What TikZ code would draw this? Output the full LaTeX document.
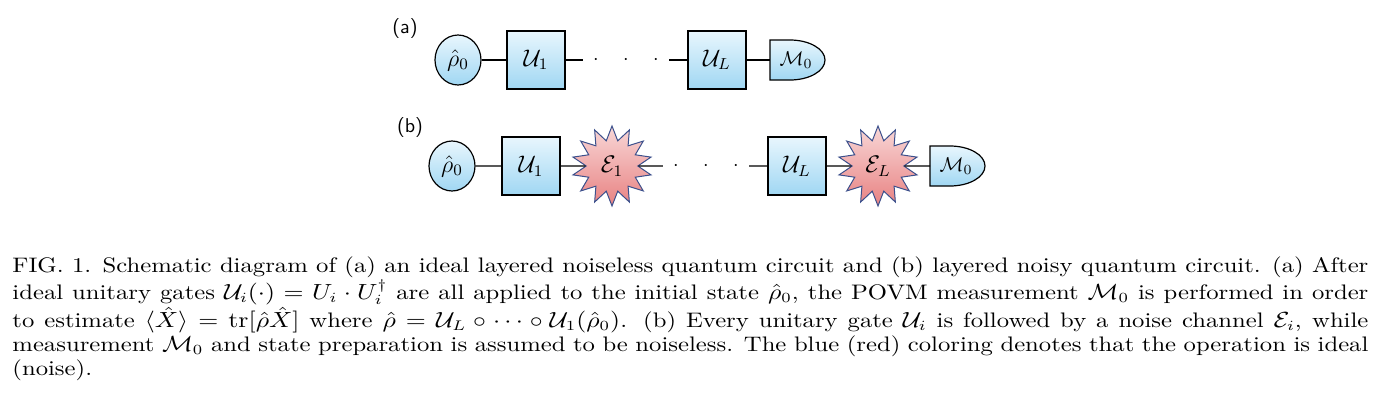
\documentclass[tikz,border=0pt]{standalone}
\usepackage{amsmath,amssymb}
\usetikzlibrary{shapes.geometric}
\definecolor{skyl}{RGB}{232,246,253}
\definecolor{skyd}{RGB}{160,215,243}
\definecolor{redl}{RGB}{248,215,215}
\definecolor{redd}{RGB}{232,130,130}
\definecolor{edgeb}{RGB}{60,80,140}
\begin{document}
\begin{tikzpicture}[x=0.5pt,y=-0.5pt,
  wire/.style={black,line width=0.6pt},
  ideal/.style={draw=black,line width=0.6pt,top color=skyl,bottom color=skyd},
  gate/.style={ideal,rectangle,minimum size=29pt,inner sep=0pt,font=\large},
  state/.style={ideal,ellipse,minimum width=23pt,minimum height=25pt,inner sep=0pt,font=\large},
  noise/.style={star,star points=14,star point ratio=1.55,minimum size=40pt,inner sep=0pt,
    draw=edgeb,line width=0.5pt,top color=redl,bottom color=redd,font=\large},
  dots/.style={inner sep=5pt},
  lab/.style={font=\sffamily}]
\useasboundingbox (0,0) rectangle (1376,412);
% (a) ideal circuit
\node[lab] (la) at (405,28) {(a)};
\node[state] (r0a) at (458,60) {$\hat\rho_0$};
\node[gate] (u1a) at (536,60) {$\mathcal{U}_1$};
\node[dots] (da) at (626,60) {$\cdot\quad\cdot\quad\cdot$};
\node[gate] (ula) at (717,60) {$\mathcal{U}_L$};
\draw[ideal] (770,40) -- (790,40) arc (-90:90:35 and 20) -- (770,80) -- cycle;
\node (ma) at (796,60) {$\mathcal{M}_0$};
\coordinate (mal) at (770,60);
\draw[wire] (r0a) -- (u1a) (u1a) -- (da) (da) -- (ula) (ula) -- (mal);
% (b) noisy circuit
\node[lab] (lb) at (410,127) {(b)};
\node[state] (r0b) at (452,166) {$\hat\rho_0$};
\node[gate] (u1b) at (531,166) {$\mathcal{U}_1$};
\node[noise] (e1) at (612,166) {$\mathcal{E}_1$};
\node[dots] (db) at (706,166) {$\cdot\quad\cdot\quad\cdot$};
\node[gate] (ulb) at (797,166) {$\mathcal{U}_L$};
\node[noise] (el) at (878,166) {$\mathcal{E}_L$};
\draw[ideal] (930,146) -- (950,146) arc (-90:90:35 and 20) -- (930,186) -- cycle;
\node (mb) at (956,166) {$\mathcal{M}_0$};
\coordinate (mbl) at (930,166);
\draw[wire] (r0b) -- (u1b) (u1b) -- (e1) (e1) -- (db) (db) -- (ulb) (ulb) -- (el) (el) -- (mbl);
% caption
\node[anchor=north west,inner sep=0pt,text width=577pt,align=justify,xscale=1.175,transform shape,
  font=\fontsize{10.5}{11.9}\selectfont] (cap) at (12,256) {FIG. 1. Schematic diagram of (a) an ideal layered noiseless quantum circuit and (b) layered noisy quantum circuit. (a) After ideal unitary gates $\mathcal{U}_i(\cdot)=U_i\cdot U_i^\dagger$ are all applied to the initial state $\hat\rho_0$, the POVM measurement $\mathcal{M}_0$ is performed in order to estimate $\langle\hat X\rangle=\mathrm{tr}[\hat\rho\hat X]$ where $\hat\rho=\mathcal{U}_L\circ\cdots\circ\mathcal{U}_1(\hat\rho_0)$. (b) Every unitary gate $\mathcal{U}_i$ is followed by a noise channel $\mathcal{E}_i$, while measurement $\mathcal{M}_0$ and state preparation is assumed to be noiseless. The blue (red) coloring denotes that the operation is ideal (noise).};
\end{tikzpicture}
\end{document}
